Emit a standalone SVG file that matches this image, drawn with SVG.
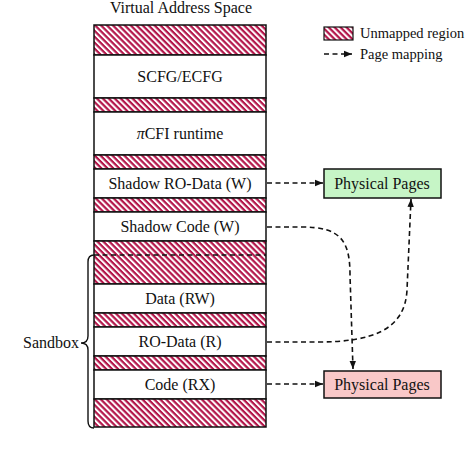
<svg xmlns="http://www.w3.org/2000/svg" width="474" height="454" viewBox="0 0 474 454">
<style>
text{font-family:"Liberation Serif","Times New Roman",serif;font-size:16px;fill:#111;text-anchor:middle}
.lg{font-size:14.5px;text-anchor:start}
.band{stroke:#111;stroke-width:1.5}
.un{fill:url(#hatch)}
.mp{fill:#fff}
.dash{fill:none;stroke:#111;stroke-width:1.6;stroke-dasharray:5,3.5}
</style>
<defs>
<pattern id="hatch" patternUnits="userSpaceOnUse" width="4.2" height="4.2" patternTransform="rotate(45)">
<rect width="4.2" height="4.2" fill="#fff"/>
<rect width="4.2" height="2.2" fill="#b3164a"/>
</pattern>
<marker id="ah" viewBox="0 0 10 10" refX="10" refY="5" markerWidth="8" markerHeight="8" markerUnits="userSpaceOnUse" orient="auto">
<path d="M0,1 L10,5 L0,9 z" fill="#111"/>
</marker>
</defs>
<text x="181" y="13">Virtual Address Space</text>
<g id="legend">
<rect x="324" y="27" width="29" height="13" class="un" stroke="#111" stroke-width="1.2"/>
<text x="360" y="38" class="lg">Unmapped region</text>
<path d="M324,54 L352,54" class="dash" stroke-dasharray="4,3" marker-end="url(#ah)"/>
<text x="360" y="59" class="lg">Page mapping</text>
</g>
<g id="column">
<rect class="band un" x="94" y="25" width="172" height="30"/>
<g id="scfg"><rect class="band mp" x="94" y="55" width="172" height="43"/><text x="180" y="82">SCFG/ECFG</text></g>
<rect class="band un" x="94" y="98" width="172" height="14"/>
<g id="pcfi"><rect class="band mp" x="94" y="112" width="172" height="43"/><text x="180" y="139"><tspan font-style="italic">π</tspan>CFI runtime</text></g>
<rect class="band un" x="94" y="155" width="172" height="14"/>
<g id="shro"><rect class="band mp" x="94" y="169" width="172" height="29"/><text x="180" y="189">Shadow RO-Data (W)</text></g>
<rect class="band un" x="94" y="198" width="172" height="14"/>
<g id="shcode"><rect class="band mp" x="94" y="212" width="172" height="29"/><text x="180" y="232">Shadow Code (W)</text></g>
<rect class="band un" x="94" y="241" width="172" height="43"/>
<g id="data"><rect class="band mp" x="94" y="284" width="172" height="29"/><text x="180" y="304">Data (RW)</text></g>
<rect class="band un" x="94" y="313" width="172" height="14"/>
<g id="rodata"><rect class="band mp" x="94" y="327" width="172" height="29"/><text x="180" y="347">RO-Data (R)</text></g>
<rect class="band un" x="94" y="356" width="172" height="14"/>
<g id="code"><rect class="band mp" x="94" y="370" width="172" height="29"/><text x="180" y="390">Code (RX)</text></g>
<rect class="band un" x="94" y="399" width="172" height="28"/>
</g>
<g id="sandbox">
<path d="M94,255 Q88,255 88,262 L88,336 Q88,343 81,343 Q88,343 88,350 L88,421 Q88,428 94,428" fill="none" stroke="#111" stroke-width="1.4"/>
<text x="51" y="348">Sandbox</text>
</g>
<g id="pp-green"><rect x="324" y="169" width="117" height="29" fill="#c6f5c6" stroke="#111" stroke-width="1.5"/><text x="382" y="189">Physical Pages</text></g>
<g id="pp-red"><rect x="324" y="371" width="117" height="27" fill="#f9c8c8" stroke="#111" stroke-width="1.5"/><text x="382" y="390">Physical Pages</text></g>
<g id="connectors">
<path d="M94,255 L266,255" class="dash"/>
<path d="M267,183 L323,183" class="dash" marker-end="url(#ah)"/>
<path d="M267,384 L323,384" class="dash" marker-end="url(#ah)"/>
<path d="M267,227 L302,227 C340,227 350,240 350,275 L353,369" class="dash" marker-end="url(#ah)"/>
<path d="M267,342 L318,342 C372,342 405,330 407,290 L411,199" class="dash" marker-end="url(#ah)"/>
</g>
</svg>
